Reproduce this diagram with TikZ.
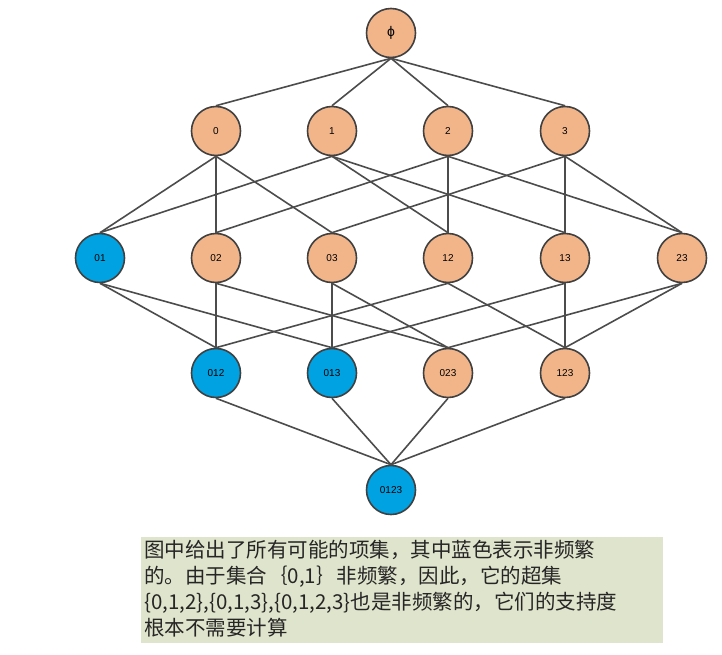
\documentclass[tikz,border=0pt]{standalone}
\usepackage{fontspec}
\setmainfont{Liberation Sans}
\newfontfamily\cjk{Noto Sans CJK SC}
\begin{document}
\begin{tikzpicture}[x=1pt,y=-1pt,
  item/.style={circle,draw=black!75,line width=1.6pt,minimum size=49pt,inner sep=0pt,font=\fontsize{10}{11}\selectfont},
  edge/.style={draw=black!70,line width=1.6pt}]
\useasboundingbox (0,0) rectangle (722,655);
\definecolor{org}{HTML}{F2B58A}\definecolor{blu}{HTML}{00A2E2}
\tikzset{freq/.style={item,fill=org},infreq/.style={item,fill=blu}}
\node[freq,font=\fontsize{14}{14}\selectfont] (e) at (391,33) {ϕ};
\node[freq] (0) at (216,131) {0};
\node[freq] (1) at (332,131) {1};
\node[freq] (2) at (448,131) {2};
\node[freq] (3) at (565,131) {3};
\node[infreq] (01) at (100,258) {01};
\node[freq] (02) at (216,258) {02};
\node[freq] (03) at (332,258) {03};
\node[freq] (12) at (448,258) {12};
\node[freq] (13) at (565,258) {13};
\node[freq] (23) at (682,258) {23};
\node[infreq] (012) at (216,373) {012};
\node[infreq] (013) at (332,373) {013};
\node[freq] (023) at (448,373) {023};
\node[freq] (123) at (565,373) {123};
\node[infreq] (0123) at (391,490) {0123};
\foreach \a/\b in {e/0,e/1,e/2,e/3,
  0/01,0/02,0/03,1/01,1/12,1/13,2/02,2/12,2/23,3/03,3/13,3/23,
  01/012,01/013,02/012,02/023,03/013,03/023,12/012,12/123,13/013,13/123,23/023,23/123,
  012/0123,013/0123,023/0123,123/0123}
  \draw[edge] (\a.south) -- (\b.north);
\node[fill={rgb,255:red,223;green,228;blue,204},minimum width=522pt,minimum height=106pt,inner sep=0pt] (box) at (402,590) {};
\node[anchor=north west,inner sep=0pt,align=left,font=\cjk\fontsize{20.5}{26}\selectfont,text=black!85] (txt) at (144,540)
 {图中给出了所有可能的项集，其中蓝色表示非频繁\\的。由于集合｛0,1｝非频繁，因此，它的超集\\\{0,1,2\},\{0,1,3\},\{0,1,2,3\}也是非频繁的，它们的支持度\\根本不需要计算};
\end{tikzpicture}
\end{document}
